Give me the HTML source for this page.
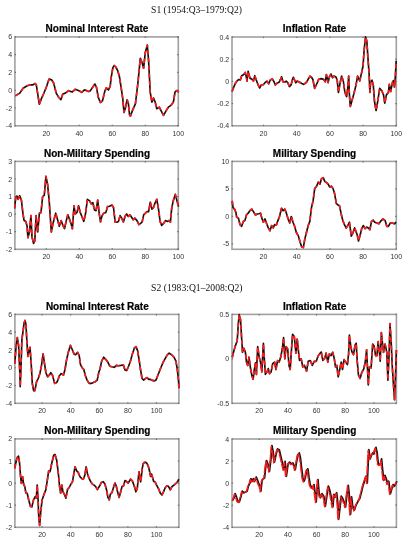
<!DOCTYPE html><html><head><meta charset="utf-8"><style>html,body{margin:0;padding:0;background:#fff;}svg{display:block}</style></head><body>
<svg width="409" height="550" viewBox="0 0 409 550">
<text x="151.1" y="13.3" font-family='"Liberation Serif", "Times New Roman", serif' font-size="10.4" fill="#111" textLength="90.8" lengthAdjust="spacingAndGlyphs">S1 (1954:Q3–1979:Q2)</text>
<text x="151.1" y="291.2" font-family='"Liberation Serif", "Times New Roman", serif' font-size="10.4" fill="#111" textLength="91.4" lengthAdjust="spacingAndGlyphs">S2 (1983:Q1–2008:Q2)</text>
<text x="97.0" y="32.3" font-family='"Liberation Sans", Arial, Helvetica, sans-serif' font-weight="bold" font-size="10" fill="#000" stroke="#000" stroke-width="0.2" text-anchor="middle">Nominal Interest Rate</text>
<rect x="14.90" y="36.90" width="163.40" height="88.90" fill="none" stroke="#a0a0a0" stroke-width="1.6"/>
<line x1="14.60" y1="36.90" x2="16.00" y2="36.90" stroke="#707070" stroke-width="1.2"/>
<line x1="178.60" y1="36.90" x2="177.20" y2="36.90" stroke="#707070" stroke-width="1.2"/>
<text x="12.1" y="39.4" font-family='"Liberation Sans", Arial, Helvetica, sans-serif' font-size="7" fill="#333" text-anchor="end">6</text>
<line x1="14.60" y1="54.68" x2="16.00" y2="54.68" stroke="#707070" stroke-width="1.2"/>
<line x1="178.60" y1="54.68" x2="177.20" y2="54.68" stroke="#707070" stroke-width="1.2"/>
<text x="12.1" y="57.2" font-family='"Liberation Sans", Arial, Helvetica, sans-serif' font-size="7" fill="#333" text-anchor="end">4</text>
<line x1="14.60" y1="72.46" x2="16.00" y2="72.46" stroke="#707070" stroke-width="1.2"/>
<line x1="178.60" y1="72.46" x2="177.20" y2="72.46" stroke="#707070" stroke-width="1.2"/>
<text x="12.1" y="75.0" font-family='"Liberation Sans", Arial, Helvetica, sans-serif' font-size="7" fill="#333" text-anchor="end">2</text>
<line x1="14.60" y1="90.24" x2="16.00" y2="90.24" stroke="#707070" stroke-width="1.2"/>
<line x1="178.60" y1="90.24" x2="177.20" y2="90.24" stroke="#707070" stroke-width="1.2"/>
<text x="12.1" y="92.7" font-family='"Liberation Sans", Arial, Helvetica, sans-serif' font-size="7" fill="#333" text-anchor="end">0</text>
<line x1="14.60" y1="108.02" x2="16.00" y2="108.02" stroke="#707070" stroke-width="1.2"/>
<line x1="178.60" y1="108.02" x2="177.20" y2="108.02" stroke="#707070" stroke-width="1.2"/>
<text x="12.1" y="110.5" font-family='"Liberation Sans", Arial, Helvetica, sans-serif' font-size="7" fill="#333" text-anchor="end">-2</text>
<line x1="14.60" y1="125.80" x2="16.00" y2="125.80" stroke="#707070" stroke-width="1.2"/>
<line x1="178.60" y1="125.80" x2="177.20" y2="125.80" stroke="#707070" stroke-width="1.2"/>
<text x="12.1" y="128.3" font-family='"Liberation Sans", Arial, Helvetica, sans-serif' font-size="7" fill="#333" text-anchor="end">-4</text>
<line x1="46.26" y1="126.10" x2="46.26" y2="124.70" stroke="#707070" stroke-width="1.2"/>
<line x1="46.26" y1="36.60" x2="46.26" y2="38.00" stroke="#707070" stroke-width="1.2"/>
<text x="46.3" y="135.9" font-family='"Liberation Sans", Arial, Helvetica, sans-serif' font-size="7" fill="#333" text-anchor="middle">20</text>
<line x1="79.27" y1="126.10" x2="79.27" y2="124.70" stroke="#707070" stroke-width="1.2"/>
<line x1="79.27" y1="36.60" x2="79.27" y2="38.00" stroke="#707070" stroke-width="1.2"/>
<text x="79.3" y="135.9" font-family='"Liberation Sans", Arial, Helvetica, sans-serif' font-size="7" fill="#333" text-anchor="middle">40</text>
<line x1="112.28" y1="126.10" x2="112.28" y2="124.70" stroke="#707070" stroke-width="1.2"/>
<line x1="112.28" y1="36.60" x2="112.28" y2="38.00" stroke="#707070" stroke-width="1.2"/>
<text x="112.3" y="135.9" font-family='"Liberation Sans", Arial, Helvetica, sans-serif' font-size="7" fill="#333" text-anchor="middle">60</text>
<line x1="145.29" y1="126.10" x2="145.29" y2="124.70" stroke="#707070" stroke-width="1.2"/>
<line x1="145.29" y1="36.60" x2="145.29" y2="38.00" stroke="#707070" stroke-width="1.2"/>
<text x="145.3" y="135.9" font-family='"Liberation Sans", Arial, Helvetica, sans-serif' font-size="7" fill="#333" text-anchor="middle">80</text>
<line x1="178.30" y1="126.10" x2="178.30" y2="124.70" stroke="#707070" stroke-width="1.2"/>
<line x1="178.30" y1="36.60" x2="178.30" y2="38.00" stroke="#707070" stroke-width="1.2"/>
<text x="178.3" y="135.9" font-family='"Liberation Sans", Arial, Helvetica, sans-serif' font-size="7" fill="#333" text-anchor="middle">100</text>
<polyline points="15.3,95.9 19.8,93.1 23.1,88.2 27.2,85.7 30.6,84.8 33.0,84.8 35.2,83.5 36.3,84.8 38.0,95.6 39.3,104.2 41.3,98.9 43.5,94.0 46.3,87.3 49.1,79.0 51.7,79.9 53.7,83.2 56.2,93.1 58.7,97.3 60.9,99.7 62.8,94.0 65.3,93.1 68.6,90.6 69.3,91.1 72.3,92.0 75.1,89.3 78.4,90.6 81.7,92.3 84.5,89.8 88.4,91.5 90.0,91.1 92.5,87.5 94.9,84.0 96.5,87.3 98.2,97.1 100.4,102.5 102.5,100.9 104.7,91.6 106.3,87.8 108.5,90.0 110.2,86.2 111.2,77.4 112.9,67.6 114.2,65.5 115.8,67.0 117.8,70.9 119.4,76.4 121.1,87.3 122.7,98.2 124.0,112.4 125.4,108.0 127.1,99.8 128.4,103.6 129.5,114.5 130.4,116.2 132.5,110.4 135.4,103.8 137.8,84.0 140.3,58.3 142.0,62.4 143.6,68.2 145.3,52.5 147.3,45.1 148.6,60.8 150.2,92.2 151.9,102.1 153.5,98.0 155.2,102.1 156.8,108.7 159.3,107.1 161.3,111.2 163.5,115.3 165.9,111.2 168.4,107.1 170.9,105.4 173.4,102.1 175.0,92.2 176.7,90.5 178.8,92.2" fill="none" stroke="#111" stroke-width="1.65" stroke-linejoin="round"/>
<polyline points="15.3,95.9 19.8,93.1 23.1,88.2 27.2,85.7 30.6,84.8 33.0,84.8 35.2,83.5 36.3,84.8 38.0,95.6 39.3,104.2 41.3,98.9 43.5,94.0 46.3,87.3 49.1,79.0 51.7,79.9 53.7,83.2 56.2,93.1 58.7,97.3 60.9,99.7 62.8,94.0 65.3,93.1 68.6,90.6 69.3,91.1 72.3,92.0 75.1,89.3 78.4,90.6 81.7,92.3 84.5,89.8 88.4,91.5 90.0,91.1 92.5,87.5 94.9,84.0 96.5,87.3 98.2,97.1 100.4,102.5 102.5,100.9 104.7,91.6 106.3,87.8 108.5,90.0 110.2,86.2 111.2,77.4 112.9,67.6 114.2,65.5 115.8,67.0 117.8,70.9 119.4,76.4 121.1,87.3 122.7,98.2 124.0,112.4 125.4,108.0 127.1,99.8 128.4,103.6 129.5,114.5 130.4,116.2 132.5,110.4 135.4,103.8 137.8,84.0 140.3,58.3 142.0,62.4 143.6,68.2 145.3,52.5 147.3,45.1 148.6,60.8 150.2,92.2 151.9,102.1 153.5,98.0 155.2,102.1 156.8,108.7 159.3,107.1 161.3,111.2 163.5,115.3 165.9,111.2 168.4,107.1 170.9,105.4 173.4,102.1 175.0,92.2 176.7,90.5 178.8,92.2" fill="none" stroke="#ff1a1a" stroke-width="1.65" stroke-dasharray="4.3 3.4" stroke-linejoin="round"/>
<text x="314.5" y="32.4" font-family='"Liberation Sans", Arial, Helvetica, sans-serif' font-weight="bold" font-size="10" fill="#000" stroke="#000" stroke-width="0.2" text-anchor="middle">Inflation Rate</text>
<rect x="232.00" y="37.00" width="164.30" height="88.80" fill="none" stroke="#a0a0a0" stroke-width="1.6"/>
<line x1="231.70" y1="37.00" x2="233.10" y2="37.00" stroke="#707070" stroke-width="1.2"/>
<line x1="396.60" y1="37.00" x2="395.20" y2="37.00" stroke="#707070" stroke-width="1.2"/>
<text x="229.2" y="39.5" font-family='"Liberation Sans", Arial, Helvetica, sans-serif' font-size="7" fill="#333" text-anchor="end">0.4</text>
<line x1="231.70" y1="59.20" x2="233.10" y2="59.20" stroke="#707070" stroke-width="1.2"/>
<line x1="396.60" y1="59.20" x2="395.20" y2="59.20" stroke="#707070" stroke-width="1.2"/>
<text x="229.2" y="61.7" font-family='"Liberation Sans", Arial, Helvetica, sans-serif' font-size="7" fill="#333" text-anchor="end">0.2</text>
<line x1="231.70" y1="81.40" x2="233.10" y2="81.40" stroke="#707070" stroke-width="1.2"/>
<line x1="396.60" y1="81.40" x2="395.20" y2="81.40" stroke="#707070" stroke-width="1.2"/>
<text x="229.2" y="83.9" font-family='"Liberation Sans", Arial, Helvetica, sans-serif' font-size="7" fill="#333" text-anchor="end">0</text>
<line x1="231.70" y1="103.60" x2="233.10" y2="103.60" stroke="#707070" stroke-width="1.2"/>
<line x1="396.60" y1="103.60" x2="395.20" y2="103.60" stroke="#707070" stroke-width="1.2"/>
<text x="229.2" y="106.1" font-family='"Liberation Sans", Arial, Helvetica, sans-serif' font-size="7" fill="#333" text-anchor="end">-0.2</text>
<line x1="231.70" y1="125.80" x2="233.10" y2="125.80" stroke="#707070" stroke-width="1.2"/>
<line x1="396.60" y1="125.80" x2="395.20" y2="125.80" stroke="#707070" stroke-width="1.2"/>
<text x="229.2" y="128.3" font-family='"Liberation Sans", Arial, Helvetica, sans-serif' font-size="7" fill="#333" text-anchor="end">-0.4</text>
<line x1="263.53" y1="126.10" x2="263.53" y2="124.70" stroke="#707070" stroke-width="1.2"/>
<line x1="263.53" y1="36.70" x2="263.53" y2="38.10" stroke="#707070" stroke-width="1.2"/>
<text x="263.5" y="135.9" font-family='"Liberation Sans", Arial, Helvetica, sans-serif' font-size="7" fill="#333" text-anchor="middle">20</text>
<line x1="296.72" y1="126.10" x2="296.72" y2="124.70" stroke="#707070" stroke-width="1.2"/>
<line x1="296.72" y1="36.70" x2="296.72" y2="38.10" stroke="#707070" stroke-width="1.2"/>
<text x="296.7" y="135.9" font-family='"Liberation Sans", Arial, Helvetica, sans-serif' font-size="7" fill="#333" text-anchor="middle">40</text>
<line x1="329.92" y1="126.10" x2="329.92" y2="124.70" stroke="#707070" stroke-width="1.2"/>
<line x1="329.92" y1="36.70" x2="329.92" y2="38.10" stroke="#707070" stroke-width="1.2"/>
<text x="329.9" y="135.9" font-family='"Liberation Sans", Arial, Helvetica, sans-serif' font-size="7" fill="#333" text-anchor="middle">60</text>
<line x1="363.11" y1="126.10" x2="363.11" y2="124.70" stroke="#707070" stroke-width="1.2"/>
<line x1="363.11" y1="36.70" x2="363.11" y2="38.10" stroke="#707070" stroke-width="1.2"/>
<text x="363.1" y="135.9" font-family='"Liberation Sans", Arial, Helvetica, sans-serif' font-size="7" fill="#333" text-anchor="middle">80</text>
<line x1="396.30" y1="126.10" x2="396.30" y2="124.70" stroke="#707070" stroke-width="1.2"/>
<line x1="396.30" y1="36.70" x2="396.30" y2="38.10" stroke="#707070" stroke-width="1.2"/>
<text x="396.3" y="135.9" font-family='"Liberation Sans", Arial, Helvetica, sans-serif' font-size="7" fill="#333" text-anchor="middle">100</text>
<polyline points="232.1,91.5 233.7,87.1 235.4,83.3 237.0,81.1 238.6,79.5 240.3,80.0 241.7,75.7 243.0,75.1 244.1,74.2 245.2,72.4 246.3,76.7 247.0,81.1 248.1,71.3 249.0,74.6 250.1,78.4 251.7,78.9 253.4,81.1 254.8,75.7 256.1,79.5 257.7,83.8 259.6,88.0 261.3,84.9 263.2,84.7 265.4,82.2 267.0,81.1 268.7,83.8 270.3,80.0 272.3,78.9 274.0,81.7 275.3,84.9 276.9,83.3 279.1,82.2 280.5,79.5 281.6,76.7 282.9,81.7 284.6,82.2 286.2,81.1 287.8,82.8 289.5,86.6 291.1,84.9 292.2,80.6 293.3,77.3 294.6,80.0 295.8,82.8 297.1,81.1 298.7,81.7 300.4,82.8 302.0,83.6 303.7,84.4 305.3,83.3 306.9,81.7 308.6,78.4 310.0,76.2 311.5,77.3 312.9,79.5 314.6,88.4 316.6,84.3 318.7,79.4 321.2,78.6 323.6,79.4 325.3,81.8 326.4,74.5 328.1,82.6 329.4,76.9 331.0,74.0 332.6,77.7 334.0,76.1 335.9,76.9 337.2,80.2 338.4,92.5 340.0,83.5 341.6,76.1 343.3,81.0 344.9,92.5 346.6,96.6 347.7,88.4 348.7,76.1 349.3,93.3 350.3,106.4 352.0,100.6 354.0,93.3 356.0,85.1 357.6,76.1 359.7,81.0 361.4,73.6 363.0,66.3 364.1,50.7 365.5,36.8 366.8,40.9 367.9,57.3 369.1,73.6 369.9,92.5 370.7,81.8 372.0,80.2 373.3,85.1 374.5,101.5 376.1,110.5 377.7,101.5 379.7,88.4 381.8,90.8 383.5,94.9 384.8,103.1 386.4,94.9 388.4,92.5 389.3,84.4 390.7,91.5 392.4,82.7 393.4,80.5 394.5,87.0 395.4,75.5 396.2,60.9" fill="none" stroke="#111" stroke-width="1.65" stroke-linejoin="round"/>
<polyline points="232.1,91.5 233.7,87.1 235.4,83.3 237.0,81.1 238.6,79.5 240.3,80.0 241.7,75.7 243.0,75.1 244.1,74.2 245.2,72.4 246.3,76.7 247.0,81.1 248.1,71.3 249.0,74.6 250.1,78.4 251.7,78.9 253.4,81.1 254.8,75.7 256.1,79.5 257.7,83.8 259.6,88.0 261.3,84.9 263.2,84.7 265.4,82.2 267.0,81.1 268.7,83.8 270.3,80.0 272.3,78.9 274.0,81.7 275.3,84.9 276.9,83.3 279.1,82.2 280.5,79.5 281.6,76.7 282.9,81.7 284.6,82.2 286.2,81.1 287.8,82.8 289.5,86.6 291.1,84.9 292.2,80.6 293.3,77.3 294.6,80.0 295.8,82.8 297.1,81.1 298.7,81.7 300.4,82.8 302.0,83.6 303.7,84.4 305.3,83.3 306.9,81.7 308.6,78.4 310.0,76.2 311.5,77.3 312.9,79.5 314.6,88.4 316.6,84.3 318.7,79.4 321.2,78.6 323.6,79.4 325.3,81.8 326.4,74.5 328.1,82.6 329.4,76.9 331.0,74.0 332.6,77.7 334.0,76.1 335.9,76.9 337.2,80.2 338.4,92.5 340.0,83.5 341.6,76.1 343.3,81.0 344.9,92.5 346.6,96.6 347.7,88.4 348.7,76.1 349.3,93.3 350.3,106.4 352.0,100.6 354.0,93.3 356.0,85.1 357.6,76.1 359.7,81.0 361.4,73.6 363.0,66.3 364.1,50.7 365.5,36.8 366.8,40.9 367.9,57.3 369.1,73.6 369.9,92.5 370.7,81.8 372.0,80.2 373.3,85.1 374.5,101.5 376.1,110.5 377.7,101.5 379.7,88.4 381.8,90.8 383.5,94.9 384.8,103.1 386.4,94.9 388.4,92.5 389.3,84.4 390.7,91.5 392.4,82.7 393.4,80.5 394.5,87.0 395.4,75.5 396.2,60.9" fill="none" stroke="#ff1a1a" stroke-width="1.65" stroke-dasharray="4.3 3.4" stroke-linejoin="round"/>
<text x="97.0" y="156.8" font-family='"Liberation Sans", Arial, Helvetica, sans-serif' font-weight="bold" font-size="10" fill="#000" stroke="#000" stroke-width="0.2" text-anchor="middle">Non-Military Spending</text>
<rect x="14.90" y="161.40" width="163.40" height="87.90" fill="none" stroke="#a0a0a0" stroke-width="1.6"/>
<line x1="14.60" y1="161.40" x2="16.00" y2="161.40" stroke="#707070" stroke-width="1.2"/>
<line x1="178.60" y1="161.40" x2="177.20" y2="161.40" stroke="#707070" stroke-width="1.2"/>
<text x="12.1" y="163.9" font-family='"Liberation Sans", Arial, Helvetica, sans-serif' font-size="7" fill="#333" text-anchor="end">3</text>
<line x1="14.60" y1="178.98" x2="16.00" y2="178.98" stroke="#707070" stroke-width="1.2"/>
<line x1="178.60" y1="178.98" x2="177.20" y2="178.98" stroke="#707070" stroke-width="1.2"/>
<text x="12.1" y="181.5" font-family='"Liberation Sans", Arial, Helvetica, sans-serif' font-size="7" fill="#333" text-anchor="end">2</text>
<line x1="14.60" y1="196.56" x2="16.00" y2="196.56" stroke="#707070" stroke-width="1.2"/>
<line x1="178.60" y1="196.56" x2="177.20" y2="196.56" stroke="#707070" stroke-width="1.2"/>
<text x="12.1" y="199.1" font-family='"Liberation Sans", Arial, Helvetica, sans-serif' font-size="7" fill="#333" text-anchor="end">1</text>
<line x1="14.60" y1="214.14" x2="16.00" y2="214.14" stroke="#707070" stroke-width="1.2"/>
<line x1="178.60" y1="214.14" x2="177.20" y2="214.14" stroke="#707070" stroke-width="1.2"/>
<text x="12.1" y="216.6" font-family='"Liberation Sans", Arial, Helvetica, sans-serif' font-size="7" fill="#333" text-anchor="end">0</text>
<line x1="14.60" y1="231.72" x2="16.00" y2="231.72" stroke="#707070" stroke-width="1.2"/>
<line x1="178.60" y1="231.72" x2="177.20" y2="231.72" stroke="#707070" stroke-width="1.2"/>
<text x="12.1" y="234.2" font-family='"Liberation Sans", Arial, Helvetica, sans-serif' font-size="7" fill="#333" text-anchor="end">-1</text>
<line x1="14.60" y1="249.30" x2="16.00" y2="249.30" stroke="#707070" stroke-width="1.2"/>
<line x1="178.60" y1="249.30" x2="177.20" y2="249.30" stroke="#707070" stroke-width="1.2"/>
<text x="12.1" y="251.8" font-family='"Liberation Sans", Arial, Helvetica, sans-serif' font-size="7" fill="#333" text-anchor="end">-2</text>
<line x1="46.26" y1="249.60" x2="46.26" y2="248.20" stroke="#707070" stroke-width="1.2"/>
<line x1="46.26" y1="161.10" x2="46.26" y2="162.50" stroke="#707070" stroke-width="1.2"/>
<text x="46.3" y="259.4" font-family='"Liberation Sans", Arial, Helvetica, sans-serif' font-size="7" fill="#333" text-anchor="middle">20</text>
<line x1="79.27" y1="249.60" x2="79.27" y2="248.20" stroke="#707070" stroke-width="1.2"/>
<line x1="79.27" y1="161.10" x2="79.27" y2="162.50" stroke="#707070" stroke-width="1.2"/>
<text x="79.3" y="259.4" font-family='"Liberation Sans", Arial, Helvetica, sans-serif' font-size="7" fill="#333" text-anchor="middle">40</text>
<line x1="112.28" y1="249.60" x2="112.28" y2="248.20" stroke="#707070" stroke-width="1.2"/>
<line x1="112.28" y1="161.10" x2="112.28" y2="162.50" stroke="#707070" stroke-width="1.2"/>
<text x="112.3" y="259.4" font-family='"Liberation Sans", Arial, Helvetica, sans-serif' font-size="7" fill="#333" text-anchor="middle">60</text>
<line x1="145.29" y1="249.60" x2="145.29" y2="248.20" stroke="#707070" stroke-width="1.2"/>
<line x1="145.29" y1="161.10" x2="145.29" y2="162.50" stroke="#707070" stroke-width="1.2"/>
<text x="145.3" y="259.4" font-family='"Liberation Sans", Arial, Helvetica, sans-serif' font-size="7" fill="#333" text-anchor="middle">80</text>
<line x1="178.30" y1="249.60" x2="178.30" y2="248.20" stroke="#707070" stroke-width="1.2"/>
<line x1="178.30" y1="161.10" x2="178.30" y2="162.50" stroke="#707070" stroke-width="1.2"/>
<text x="178.3" y="259.4" font-family='"Liberation Sans", Arial, Helvetica, sans-serif' font-size="7" fill="#333" text-anchor="middle">100</text>
<polyline points="14.7,208.3 15.6,198.5 16.9,196.0 18.1,199.3 19.7,195.7 21.4,200.1 23.0,214.0 24.1,220.6 25.8,221.4 27.1,226.3 27.9,237.7 29.5,232.0 30.9,215.6 32.0,236.9 33.6,243.5 34.8,241.0 36.1,215.6 37.7,232.0 39.4,213.2 41.0,212.4 42.6,196.8 44.3,195.2 45.9,176.4 47.6,184.5 49.2,200.9 51.3,232.0 53.3,222.2 55.7,213.2 57.6,219.7 59.3,226.3 61.2,220.6 62.9,225.5 64.5,228.7 66.1,221.4 67.8,214.8 69.4,218.9 71.1,223.8 72.4,228.7 74.0,205.8 75.3,214.0 77.0,212.4 78.6,205.8 80.2,212.4 81.9,216.5 83.8,221.4 85.5,214.0 87.4,199.3 89.6,200.9 91.2,203.9 92.8,202.6 94.5,209.9 96.1,210.7 97.7,200.1 99.3,214.0 100.5,221.9 102.1,215.6 103.7,213.2 105.9,212.4 107.5,206.6 109.5,206.2 111.9,205.0 113.5,207.5 115.2,222.2 116.8,222.2 118.5,221.4 120.1,215.6 121.7,218.1 123.4,221.9 125.0,216.5 126.6,214.0 128.3,216.5 129.9,214.8 131.6,217.3 133.2,219.7 134.8,218.1 137.0,220.6 138.9,224.6 140.0,223.8 142.1,222.2 143.7,214.8 145.4,213.2 147.0,211.6 148.6,211.6 150.3,202.2 151.9,209.1 153.5,207.5 155.2,202.6 156.8,199.3 158.5,209.1 160.1,221.4 161.7,225.5 163.9,223.0 165.5,220.6 167.5,221.4 169.1,220.6 170.4,222.2 171.6,209.1 173.2,200.9 175.3,194.4 177.0,200.9 178.6,206.6" fill="none" stroke="#111" stroke-width="1.65" stroke-linejoin="round"/>
<polyline points="14.7,208.3 15.6,198.5 16.9,196.0 18.1,199.3 19.7,195.7 21.4,200.1 23.0,214.0 24.1,220.6 25.8,221.4 27.1,226.3 27.9,237.7 29.5,232.0 30.9,215.6 32.0,236.9 33.6,243.5 34.8,241.0 36.1,215.6 37.7,232.0 39.4,213.2 41.0,212.4 42.6,196.8 44.3,195.2 45.9,176.4 47.6,184.5 49.2,200.9 51.3,232.0 53.3,222.2 55.7,213.2 57.6,219.7 59.3,226.3 61.2,220.6 62.9,225.5 64.5,228.7 66.1,221.4 67.8,214.8 69.4,218.9 71.1,223.8 72.4,228.7 74.0,205.8 75.3,214.0 77.0,212.4 78.6,205.8 80.2,212.4 81.9,216.5 83.8,221.4 85.5,214.0 87.4,199.3 89.6,200.9 91.2,203.9 92.8,202.6 94.5,209.9 96.1,210.7 97.7,200.1 99.3,214.0 100.5,221.9 102.1,215.6 103.7,213.2 105.9,212.4 107.5,206.6 109.5,206.2 111.9,205.0 113.5,207.5 115.2,222.2 116.8,222.2 118.5,221.4 120.1,215.6 121.7,218.1 123.4,221.9 125.0,216.5 126.6,214.0 128.3,216.5 129.9,214.8 131.6,217.3 133.2,219.7 134.8,218.1 137.0,220.6 138.9,224.6 140.0,223.8 142.1,222.2 143.7,214.8 145.4,213.2 147.0,211.6 148.6,211.6 150.3,202.2 151.9,209.1 153.5,207.5 155.2,202.6 156.8,199.3 158.5,209.1 160.1,221.4 161.7,225.5 163.9,223.0 165.5,220.6 167.5,221.4 169.1,220.6 170.4,222.2 171.6,209.1 173.2,200.9 175.3,194.4 177.0,200.9 178.6,206.6" fill="none" stroke="#ff1a1a" stroke-width="1.65" stroke-dasharray="4.3 3.4" stroke-linejoin="round"/>
<text x="314.5" y="156.8" font-family='"Liberation Sans", Arial, Helvetica, sans-serif' font-weight="bold" font-size="10" fill="#000" stroke="#000" stroke-width="0.2" text-anchor="middle">Military Spending</text>
<rect x="232.00" y="161.40" width="164.30" height="87.90" fill="none" stroke="#a0a0a0" stroke-width="1.6"/>
<line x1="231.70" y1="161.40" x2="233.10" y2="161.40" stroke="#707070" stroke-width="1.2"/>
<line x1="396.60" y1="161.40" x2="395.20" y2="161.40" stroke="#707070" stroke-width="1.2"/>
<text x="229.2" y="163.9" font-family='"Liberation Sans", Arial, Helvetica, sans-serif' font-size="7" fill="#333" text-anchor="end">10</text>
<line x1="231.70" y1="188.87" x2="233.10" y2="188.87" stroke="#707070" stroke-width="1.2"/>
<line x1="396.60" y1="188.87" x2="395.20" y2="188.87" stroke="#707070" stroke-width="1.2"/>
<text x="229.2" y="191.4" font-family='"Liberation Sans", Arial, Helvetica, sans-serif' font-size="7" fill="#333" text-anchor="end">5</text>
<line x1="231.70" y1="216.34" x2="233.10" y2="216.34" stroke="#707070" stroke-width="1.2"/>
<line x1="396.60" y1="216.34" x2="395.20" y2="216.34" stroke="#707070" stroke-width="1.2"/>
<text x="229.2" y="218.8" font-family='"Liberation Sans", Arial, Helvetica, sans-serif' font-size="7" fill="#333" text-anchor="end">0</text>
<line x1="231.70" y1="243.81" x2="233.10" y2="243.81" stroke="#707070" stroke-width="1.2"/>
<line x1="396.60" y1="243.81" x2="395.20" y2="243.81" stroke="#707070" stroke-width="1.2"/>
<text x="229.2" y="246.3" font-family='"Liberation Sans", Arial, Helvetica, sans-serif' font-size="7" fill="#333" text-anchor="end">-5</text>
<line x1="263.53" y1="249.60" x2="263.53" y2="248.20" stroke="#707070" stroke-width="1.2"/>
<line x1="263.53" y1="161.10" x2="263.53" y2="162.50" stroke="#707070" stroke-width="1.2"/>
<text x="263.5" y="259.4" font-family='"Liberation Sans", Arial, Helvetica, sans-serif' font-size="7" fill="#333" text-anchor="middle">20</text>
<line x1="296.72" y1="249.60" x2="296.72" y2="248.20" stroke="#707070" stroke-width="1.2"/>
<line x1="296.72" y1="161.10" x2="296.72" y2="162.50" stroke="#707070" stroke-width="1.2"/>
<text x="296.7" y="259.4" font-family='"Liberation Sans", Arial, Helvetica, sans-serif' font-size="7" fill="#333" text-anchor="middle">40</text>
<line x1="329.92" y1="249.60" x2="329.92" y2="248.20" stroke="#707070" stroke-width="1.2"/>
<line x1="329.92" y1="161.10" x2="329.92" y2="162.50" stroke="#707070" stroke-width="1.2"/>
<text x="329.9" y="259.4" font-family='"Liberation Sans", Arial, Helvetica, sans-serif' font-size="7" fill="#333" text-anchor="middle">60</text>
<line x1="363.11" y1="249.60" x2="363.11" y2="248.20" stroke="#707070" stroke-width="1.2"/>
<line x1="363.11" y1="161.10" x2="363.11" y2="162.50" stroke="#707070" stroke-width="1.2"/>
<text x="363.1" y="259.4" font-family='"Liberation Sans", Arial, Helvetica, sans-serif' font-size="7" fill="#333" text-anchor="middle">80</text>
<line x1="396.30" y1="249.60" x2="396.30" y2="248.20" stroke="#707070" stroke-width="1.2"/>
<line x1="396.30" y1="161.10" x2="396.30" y2="162.50" stroke="#707070" stroke-width="1.2"/>
<text x="396.3" y="259.4" font-family='"Liberation Sans", Arial, Helvetica, sans-serif' font-size="7" fill="#333" text-anchor="middle">100</text>
<polyline points="232.2,200.9 233.0,207.5 234.6,209.4 235.9,212.4 236.7,217.3 238.4,218.1 240.0,224.6 241.6,226.3 243.3,221.4 244.9,220.6 246.5,214.8 248.2,213.2 249.8,210.7 251.8,209.1 253.9,212.4 255.5,215.2 257.2,214.0 258.8,213.7 260.5,213.2 262.1,218.9 263.4,222.2 265.0,218.9 266.7,223.8 268.3,227.9 270.0,230.7 271.6,225.5 273.2,227.9 274.6,224.6 276.3,225.1 277.9,220.6 279.5,216.5 281.5,208.3 283.1,210.7 284.8,209.1 286.4,213.2 288.1,218.9 289.7,223.0 291.3,216.5 293.0,222.2 294.6,226.3 296.2,232.0 298.4,236.1 300.0,241.8 301.6,246.7 303.3,247.6 304.9,238.6 306.6,232.0 308.2,225.5 309.8,221.4 311.5,207.5 313.1,200.9 314.7,188.6 316.6,186.2 318.3,182.1 319.9,184.2 321.5,178.8 323.2,177.7 324.8,181.3 326.5,182.6 328.1,184.2 329.7,187.0 331.4,186.2 333.0,188.6 334.6,193.6 336.3,203.4 337.9,205.0 339.5,205.8 341.2,214.0 342.8,220.6 344.5,224.6 346.1,227.9 347.4,226.3 349.4,222.2 351.3,236.1 353.0,232.8 354.6,227.9 356.2,232.0 357.3,235.3 358.5,241.0 360.1,235.3 361.7,228.7 363.4,225.5 365.0,228.7 366.6,227.1 368.3,227.9 369.9,229.6 371.5,221.4 373.2,220.2 374.8,222.2 376.9,223.0 378.9,223.8 380.5,221.4 383.0,218.9 385.1,220.6 386.8,226.3 388.4,226.3 390.4,223.0 392.3,223.0 394.5,223.8 396.1,222.2" fill="none" stroke="#111" stroke-width="1.65" stroke-linejoin="round"/>
<polyline points="232.2,200.9 233.0,207.5 234.6,209.4 235.9,212.4 236.7,217.3 238.4,218.1 240.0,224.6 241.6,226.3 243.3,221.4 244.9,220.6 246.5,214.8 248.2,213.2 249.8,210.7 251.8,209.1 253.9,212.4 255.5,215.2 257.2,214.0 258.8,213.7 260.5,213.2 262.1,218.9 263.4,222.2 265.0,218.9 266.7,223.8 268.3,227.9 270.0,230.7 271.6,225.5 273.2,227.9 274.6,224.6 276.3,225.1 277.9,220.6 279.5,216.5 281.5,208.3 283.1,210.7 284.8,209.1 286.4,213.2 288.1,218.9 289.7,223.0 291.3,216.5 293.0,222.2 294.6,226.3 296.2,232.0 298.4,236.1 300.0,241.8 301.6,246.7 303.3,247.6 304.9,238.6 306.6,232.0 308.2,225.5 309.8,221.4 311.5,207.5 313.1,200.9 314.7,188.6 316.6,186.2 318.3,182.1 319.9,184.2 321.5,178.8 323.2,177.7 324.8,181.3 326.5,182.6 328.1,184.2 329.7,187.0 331.4,186.2 333.0,188.6 334.6,193.6 336.3,203.4 337.9,205.0 339.5,205.8 341.2,214.0 342.8,220.6 344.5,224.6 346.1,227.9 347.4,226.3 349.4,222.2 351.3,236.1 353.0,232.8 354.6,227.9 356.2,232.0 357.3,235.3 358.5,241.0 360.1,235.3 361.7,228.7 363.4,225.5 365.0,228.7 366.6,227.1 368.3,227.9 369.9,229.6 371.5,221.4 373.2,220.2 374.8,222.2 376.9,223.0 378.9,223.8 380.5,221.4 383.0,218.9 385.1,220.6 386.8,226.3 388.4,226.3 390.4,223.0 392.3,223.0 394.5,223.8 396.1,222.2" fill="none" stroke="#ff1a1a" stroke-width="1.65" stroke-dasharray="4.3 3.4" stroke-linejoin="round"/>
<text x="97.3" y="309.8" font-family='"Liberation Sans", Arial, Helvetica, sans-serif' font-weight="bold" font-size="10" fill="#000" stroke="#000" stroke-width="0.2" text-anchor="middle">Nominal Interest Rate</text>
<rect x="14.90" y="314.40" width="164.00" height="88.90" fill="none" stroke="#a0a0a0" stroke-width="1.6"/>
<line x1="14.60" y1="314.40" x2="16.00" y2="314.40" stroke="#707070" stroke-width="1.2"/>
<line x1="179.20" y1="314.40" x2="177.80" y2="314.40" stroke="#707070" stroke-width="1.2"/>
<text x="12.1" y="316.9" font-family='"Liberation Sans", Arial, Helvetica, sans-serif' font-size="7" fill="#333" text-anchor="end">6</text>
<line x1="14.60" y1="332.18" x2="16.00" y2="332.18" stroke="#707070" stroke-width="1.2"/>
<line x1="179.20" y1="332.18" x2="177.80" y2="332.18" stroke="#707070" stroke-width="1.2"/>
<text x="12.1" y="334.7" font-family='"Liberation Sans", Arial, Helvetica, sans-serif' font-size="7" fill="#333" text-anchor="end">4</text>
<line x1="14.60" y1="349.96" x2="16.00" y2="349.96" stroke="#707070" stroke-width="1.2"/>
<line x1="179.20" y1="349.96" x2="177.80" y2="349.96" stroke="#707070" stroke-width="1.2"/>
<text x="12.1" y="352.5" font-family='"Liberation Sans", Arial, Helvetica, sans-serif' font-size="7" fill="#333" text-anchor="end">2</text>
<line x1="14.60" y1="367.74" x2="16.00" y2="367.74" stroke="#707070" stroke-width="1.2"/>
<line x1="179.20" y1="367.74" x2="177.80" y2="367.74" stroke="#707070" stroke-width="1.2"/>
<text x="12.1" y="370.2" font-family='"Liberation Sans", Arial, Helvetica, sans-serif' font-size="7" fill="#333" text-anchor="end">0</text>
<line x1="14.60" y1="385.52" x2="16.00" y2="385.52" stroke="#707070" stroke-width="1.2"/>
<line x1="179.20" y1="385.52" x2="177.80" y2="385.52" stroke="#707070" stroke-width="1.2"/>
<text x="12.1" y="388.0" font-family='"Liberation Sans", Arial, Helvetica, sans-serif' font-size="7" fill="#333" text-anchor="end">-2</text>
<line x1="14.60" y1="403.30" x2="16.00" y2="403.30" stroke="#707070" stroke-width="1.2"/>
<line x1="179.20" y1="403.30" x2="177.80" y2="403.30" stroke="#707070" stroke-width="1.2"/>
<text x="12.1" y="405.8" font-family='"Liberation Sans", Arial, Helvetica, sans-serif' font-size="7" fill="#333" text-anchor="end">-4</text>
<line x1="42.07" y1="403.60" x2="42.07" y2="402.20" stroke="#707070" stroke-width="1.2"/>
<line x1="42.07" y1="314.10" x2="42.07" y2="315.50" stroke="#707070" stroke-width="1.2"/>
<text x="42.1" y="413.4" font-family='"Liberation Sans", Arial, Helvetica, sans-serif' font-size="7" fill="#333" text-anchor="middle">20</text>
<line x1="70.66" y1="403.60" x2="70.66" y2="402.20" stroke="#707070" stroke-width="1.2"/>
<line x1="70.66" y1="314.10" x2="70.66" y2="315.50" stroke="#707070" stroke-width="1.2"/>
<text x="70.7" y="413.4" font-family='"Liberation Sans", Arial, Helvetica, sans-serif' font-size="7" fill="#333" text-anchor="middle">40</text>
<line x1="99.26" y1="403.60" x2="99.26" y2="402.20" stroke="#707070" stroke-width="1.2"/>
<line x1="99.26" y1="314.10" x2="99.26" y2="315.50" stroke="#707070" stroke-width="1.2"/>
<text x="99.3" y="413.4" font-family='"Liberation Sans", Arial, Helvetica, sans-serif' font-size="7" fill="#333" text-anchor="middle">60</text>
<line x1="127.86" y1="403.60" x2="127.86" y2="402.20" stroke="#707070" stroke-width="1.2"/>
<line x1="127.86" y1="314.10" x2="127.86" y2="315.50" stroke="#707070" stroke-width="1.2"/>
<text x="127.9" y="413.4" font-family='"Liberation Sans", Arial, Helvetica, sans-serif' font-size="7" fill="#333" text-anchor="middle">80</text>
<line x1="156.45" y1="403.60" x2="156.45" y2="402.20" stroke="#707070" stroke-width="1.2"/>
<line x1="156.45" y1="314.10" x2="156.45" y2="315.50" stroke="#707070" stroke-width="1.2"/>
<text x="156.5" y="413.4" font-family='"Liberation Sans", Arial, Helvetica, sans-serif' font-size="7" fill="#333" text-anchor="middle">100</text>
<polyline points="14.8,363.7 16.0,347.4 17.3,337.5 18.6,345.7 19.7,370.3 20.2,386.6 20.9,370.3 21.9,339.2 23.0,331.8 24.1,322.8 25.1,320.4 25.9,324.5 27.1,344.1 27.9,356.4 29.1,350.6 30.0,347.4 31.2,363.7 32.3,383.4 33.6,390.7 34.9,390.7 36.6,381.7 38.2,378.5 39.9,373.6 41.5,365.4 43.1,353.9 44.3,362.1 45.9,372.7 47.6,376.8 49.2,375.2 50.8,372.7 52.5,375.2 54.6,383.4 56.6,382.6 57.9,380.1 59.3,376.0 61.2,373.6 63.4,375.2 65.0,369.5 66.6,359.6 68.3,352.3 70.4,345.4 72.0,349.0 74.0,353.9 75.6,354.7 77.6,352.3 79.2,355.6 80.5,364.6 82.2,367.8 83.8,369.5 85.5,376.0 87.1,380.1 89.1,383.4 91.2,383.4 93.3,382.6 95.3,381.7 97.2,380.1 98.9,371.9 99.9,369.5 101.6,361.3 103.7,357.2 105.9,359.6 107.8,362.1 109.8,366.2 111.9,366.7 114.4,367.3 116.3,365.4 118.5,365.7 120.9,365.4 123.4,365.0 125.0,370.0 126.6,370.6 128.3,367.0 130.4,361.3 132.4,353.9 134.3,348.2 136.0,346.6 137.6,350.6 139.2,360.5 140.5,369.5 142.1,378.5 143.7,380.1 145.4,378.5 147.0,377.6 148.6,379.3 150.3,379.3 152.4,380.4 154.4,380.9 156.0,380.1 157.6,376.0 160.1,369.5 162.5,363.7 165.0,358.8 167.1,355.2 169.1,353.1 171.6,354.7 174.0,357.2 176.0,361.3 177.3,369.5 178.6,381.7 178.9,388.3" fill="none" stroke="#111" stroke-width="1.65" stroke-linejoin="round"/>
<polyline points="14.8,363.7 16.0,347.4 17.3,337.5 18.6,345.7 19.7,370.3 20.2,386.6 20.9,370.3 21.9,339.2 23.0,331.8 24.1,322.8 25.1,320.4 25.9,324.5 27.1,344.1 27.9,356.4 29.1,350.6 30.0,347.4 31.2,363.7 32.3,383.4 33.6,390.7 34.9,390.7 36.6,381.7 38.2,378.5 39.9,373.6 41.5,365.4 43.1,353.9 44.3,362.1 45.9,372.7 47.6,376.8 49.2,375.2 50.8,372.7 52.5,375.2 54.6,383.4 56.6,382.6 57.9,380.1 59.3,376.0 61.2,373.6 63.4,375.2 65.0,369.5 66.6,359.6 68.3,352.3 70.4,345.4 72.0,349.0 74.0,353.9 75.6,354.7 77.6,352.3 79.2,355.6 80.5,364.6 82.2,367.8 83.8,369.5 85.5,376.0 87.1,380.1 89.1,383.4 91.2,383.4 93.3,382.6 95.3,381.7 97.2,380.1 98.9,371.9 99.9,369.5 101.6,361.3 103.7,357.2 105.9,359.6 107.8,362.1 109.8,366.2 111.9,366.7 114.4,367.3 116.3,365.4 118.5,365.7 120.9,365.4 123.4,365.0 125.0,370.0 126.6,370.6 128.3,367.0 130.4,361.3 132.4,353.9 134.3,348.2 136.0,346.6 137.6,350.6 139.2,360.5 140.5,369.5 142.1,378.5 143.7,380.1 145.4,378.5 147.0,377.6 148.6,379.3 150.3,379.3 152.4,380.4 154.4,380.9 156.0,380.1 157.6,376.0 160.1,369.5 162.5,363.7 165.0,358.8 167.1,355.2 169.1,353.1 171.6,354.7 174.0,357.2 176.0,361.3 177.3,369.5 178.6,381.7 178.9,388.3" fill="none" stroke="#ff1a1a" stroke-width="1.65" stroke-dasharray="4.3 3.4" stroke-linejoin="round"/>
<text x="314.6" y="309.8" font-family='"Liberation Sans", Arial, Helvetica, sans-serif' font-weight="bold" font-size="10" fill="#000" stroke="#000" stroke-width="0.2" text-anchor="middle">Inflation Rate</text>
<rect x="232.00" y="314.40" width="164.40" height="88.90" fill="none" stroke="#a0a0a0" stroke-width="1.6"/>
<line x1="231.70" y1="314.40" x2="233.10" y2="314.40" stroke="#707070" stroke-width="1.2"/>
<line x1="396.70" y1="314.40" x2="395.30" y2="314.40" stroke="#707070" stroke-width="1.2"/>
<text x="229.2" y="316.9" font-family='"Liberation Sans", Arial, Helvetica, sans-serif' font-size="7" fill="#333" text-anchor="end">0.5</text>
<line x1="231.70" y1="358.85" x2="233.10" y2="358.85" stroke="#707070" stroke-width="1.2"/>
<line x1="396.70" y1="358.85" x2="395.30" y2="358.85" stroke="#707070" stroke-width="1.2"/>
<text x="229.2" y="361.4" font-family='"Liberation Sans", Arial, Helvetica, sans-serif' font-size="7" fill="#333" text-anchor="end">0</text>
<line x1="231.70" y1="403.30" x2="233.10" y2="403.30" stroke="#707070" stroke-width="1.2"/>
<line x1="396.70" y1="403.30" x2="395.30" y2="403.30" stroke="#707070" stroke-width="1.2"/>
<text x="229.2" y="405.8" font-family='"Liberation Sans", Arial, Helvetica, sans-serif' font-size="7" fill="#333" text-anchor="end">-0.5</text>
<line x1="259.23" y1="403.60" x2="259.23" y2="402.20" stroke="#707070" stroke-width="1.2"/>
<line x1="259.23" y1="314.10" x2="259.23" y2="315.50" stroke="#707070" stroke-width="1.2"/>
<text x="259.2" y="413.4" font-family='"Liberation Sans", Arial, Helvetica, sans-serif' font-size="7" fill="#333" text-anchor="middle">20</text>
<line x1="287.90" y1="403.60" x2="287.90" y2="402.20" stroke="#707070" stroke-width="1.2"/>
<line x1="287.90" y1="314.10" x2="287.90" y2="315.50" stroke="#707070" stroke-width="1.2"/>
<text x="287.9" y="413.4" font-family='"Liberation Sans", Arial, Helvetica, sans-serif' font-size="7" fill="#333" text-anchor="middle">40</text>
<line x1="316.56" y1="403.60" x2="316.56" y2="402.20" stroke="#707070" stroke-width="1.2"/>
<line x1="316.56" y1="314.10" x2="316.56" y2="315.50" stroke="#707070" stroke-width="1.2"/>
<text x="316.6" y="413.4" font-family='"Liberation Sans", Arial, Helvetica, sans-serif' font-size="7" fill="#333" text-anchor="middle">60</text>
<line x1="345.23" y1="403.60" x2="345.23" y2="402.20" stroke="#707070" stroke-width="1.2"/>
<line x1="345.23" y1="314.10" x2="345.23" y2="315.50" stroke="#707070" stroke-width="1.2"/>
<text x="345.2" y="413.4" font-family='"Liberation Sans", Arial, Helvetica, sans-serif' font-size="7" fill="#333" text-anchor="middle">80</text>
<line x1="373.90" y1="403.60" x2="373.90" y2="402.20" stroke="#707070" stroke-width="1.2"/>
<line x1="373.90" y1="314.10" x2="373.90" y2="315.50" stroke="#707070" stroke-width="1.2"/>
<text x="373.9" y="413.4" font-family='"Liberation Sans", Arial, Helvetica, sans-serif' font-size="7" fill="#333" text-anchor="middle">100</text>
<polyline points="232.3,357.2 233.5,352.3 235.1,346.6 237.2,340.8 238.4,322.8 239.2,314.6 240.5,319.5 241.6,337.5 242.5,352.3 243.8,348.2 245.4,352.3 246.5,362.1 247.7,365.4 249.0,357.2 250.3,367.0 252.0,376.0 253.1,379.3 254.2,370.3 255.5,362.9 256.4,374.4 257.7,346.6 259.2,357.2 260.5,362.1 261.8,371.9 263.4,343.3 264.6,362.9 265.4,374.4 267.0,371.9 268.3,368.6 269.5,373.6 271.1,371.9 272.7,363.7 274.6,362.1 275.9,369.5 277.6,360.5 279.2,362.1 280.9,356.4 282.5,347.4 283.6,337.5 284.8,358.8 286.1,346.6 287.7,349.0 289.0,365.4 290.2,369.5 291.3,352.3 292.6,334.3 294.3,336.7 295.9,353.1 297.2,339.2 298.4,350.6 299.5,360.5 301.2,358.8 302.8,367.0 304.4,365.4 306.6,371.1 308.2,361.3 310.3,360.5 312.3,365.4 314.2,361.3 316.3,361.3 317.9,356.4 319.6,353.9 321.2,352.0 322.9,360.5 324.5,358.8 326.1,353.1 327.8,362.1 329.4,353.9 331.0,355.6 332.7,352.3 334.3,358.8 335.5,367.0 336.8,365.4 338.2,376.8 339.9,368.6 341.2,362.1 342.5,369.5 344.1,359.6 345.8,362.1 347.4,364.6 348.6,353.9 349.4,335.1 350.7,345.7 351.8,351.5 353.5,354.7 355.1,344.9 356.2,343.3 357.3,362.1 358.5,375.2 360.1,378.5 361.7,372.7 363.9,368.6 365.5,360.5 366.6,349.8 367.5,368.6 368.3,385.0 369.4,367.0 371.1,367.8 372.7,344.1 374.0,345.7 375.6,355.6 377.0,355.6 378.1,341.6 379.2,349.8 380.2,361.3 381.4,332.6 382.5,343.3 383.5,352.3 385.1,344.1 386.8,352.3 387.9,380.1 389.1,353.9 390.0,323.6 391.2,342.5 392.3,367.0 393.6,386.6 394.5,399.7 395.3,381.7 396.4,350.0" fill="none" stroke="#111" stroke-width="1.65" stroke-linejoin="round"/>
<polyline points="232.3,357.2 233.5,352.3 235.1,346.6 237.2,340.8 238.4,322.8 239.2,314.6 240.5,319.5 241.6,337.5 242.5,352.3 243.8,348.2 245.4,352.3 246.5,362.1 247.7,365.4 249.0,357.2 250.3,367.0 252.0,376.0 253.1,379.3 254.2,370.3 255.5,362.9 256.4,374.4 257.7,346.6 259.2,357.2 260.5,362.1 261.8,371.9 263.4,343.3 264.6,362.9 265.4,374.4 267.0,371.9 268.3,368.6 269.5,373.6 271.1,371.9 272.7,363.7 274.6,362.1 275.9,369.5 277.6,360.5 279.2,362.1 280.9,356.4 282.5,347.4 283.6,337.5 284.8,358.8 286.1,346.6 287.7,349.0 289.0,365.4 290.2,369.5 291.3,352.3 292.6,334.3 294.3,336.7 295.9,353.1 297.2,339.2 298.4,350.6 299.5,360.5 301.2,358.8 302.8,367.0 304.4,365.4 306.6,371.1 308.2,361.3 310.3,360.5 312.3,365.4 314.2,361.3 316.3,361.3 317.9,356.4 319.6,353.9 321.2,352.0 322.9,360.5 324.5,358.8 326.1,353.1 327.8,362.1 329.4,353.9 331.0,355.6 332.7,352.3 334.3,358.8 335.5,367.0 336.8,365.4 338.2,376.8 339.9,368.6 341.2,362.1 342.5,369.5 344.1,359.6 345.8,362.1 347.4,364.6 348.6,353.9 349.4,335.1 350.7,345.7 351.8,351.5 353.5,354.7 355.1,344.9 356.2,343.3 357.3,362.1 358.5,375.2 360.1,378.5 361.7,372.7 363.9,368.6 365.5,360.5 366.6,349.8 367.5,368.6 368.3,385.0 369.4,367.0 371.1,367.8 372.7,344.1 374.0,345.7 375.6,355.6 377.0,355.6 378.1,341.6 379.2,349.8 380.2,361.3 381.4,332.6 382.5,343.3 383.5,352.3 385.1,344.1 386.8,352.3 387.9,380.1 389.1,353.9 390.0,323.6 391.2,342.5 392.3,367.0 393.6,386.6 394.5,399.7 395.3,381.7 396.4,350.0" fill="none" stroke="#ff1a1a" stroke-width="1.65" stroke-dasharray="4.3 3.4" stroke-linejoin="round"/>
<text x="97.3" y="434.3" font-family='"Liberation Sans", Arial, Helvetica, sans-serif' font-weight="bold" font-size="10" fill="#000" stroke="#000" stroke-width="0.2" text-anchor="middle">Non-Military Spending</text>
<rect x="14.90" y="438.90" width="164.00" height="88.40" fill="none" stroke="#a0a0a0" stroke-width="1.6"/>
<line x1="14.60" y1="438.90" x2="16.00" y2="438.90" stroke="#707070" stroke-width="1.2"/>
<line x1="179.20" y1="438.90" x2="177.80" y2="438.90" stroke="#707070" stroke-width="1.2"/>
<text x="12.1" y="441.4" font-family='"Liberation Sans", Arial, Helvetica, sans-serif' font-size="7" fill="#333" text-anchor="end">2</text>
<line x1="14.60" y1="461.00" x2="16.00" y2="461.00" stroke="#707070" stroke-width="1.2"/>
<line x1="179.20" y1="461.00" x2="177.80" y2="461.00" stroke="#707070" stroke-width="1.2"/>
<text x="12.1" y="463.5" font-family='"Liberation Sans", Arial, Helvetica, sans-serif' font-size="7" fill="#333" text-anchor="end">1</text>
<line x1="14.60" y1="483.10" x2="16.00" y2="483.10" stroke="#707070" stroke-width="1.2"/>
<line x1="179.20" y1="483.10" x2="177.80" y2="483.10" stroke="#707070" stroke-width="1.2"/>
<text x="12.1" y="485.6" font-family='"Liberation Sans", Arial, Helvetica, sans-serif' font-size="7" fill="#333" text-anchor="end">0</text>
<line x1="14.60" y1="505.20" x2="16.00" y2="505.20" stroke="#707070" stroke-width="1.2"/>
<line x1="179.20" y1="505.20" x2="177.80" y2="505.20" stroke="#707070" stroke-width="1.2"/>
<text x="12.1" y="507.7" font-family='"Liberation Sans", Arial, Helvetica, sans-serif' font-size="7" fill="#333" text-anchor="end">-1</text>
<line x1="14.60" y1="527.30" x2="16.00" y2="527.30" stroke="#707070" stroke-width="1.2"/>
<line x1="179.20" y1="527.30" x2="177.80" y2="527.30" stroke="#707070" stroke-width="1.2"/>
<text x="12.1" y="529.8" font-family='"Liberation Sans", Arial, Helvetica, sans-serif' font-size="7" fill="#333" text-anchor="end">-2</text>
<line x1="42.07" y1="527.60" x2="42.07" y2="526.20" stroke="#707070" stroke-width="1.2"/>
<line x1="42.07" y1="438.60" x2="42.07" y2="440.00" stroke="#707070" stroke-width="1.2"/>
<text x="42.1" y="537.4" font-family='"Liberation Sans", Arial, Helvetica, sans-serif' font-size="7" fill="#333" text-anchor="middle">20</text>
<line x1="70.66" y1="527.60" x2="70.66" y2="526.20" stroke="#707070" stroke-width="1.2"/>
<line x1="70.66" y1="438.60" x2="70.66" y2="440.00" stroke="#707070" stroke-width="1.2"/>
<text x="70.7" y="537.4" font-family='"Liberation Sans", Arial, Helvetica, sans-serif' font-size="7" fill="#333" text-anchor="middle">40</text>
<line x1="99.26" y1="527.60" x2="99.26" y2="526.20" stroke="#707070" stroke-width="1.2"/>
<line x1="99.26" y1="438.60" x2="99.26" y2="440.00" stroke="#707070" stroke-width="1.2"/>
<text x="99.3" y="537.4" font-family='"Liberation Sans", Arial, Helvetica, sans-serif' font-size="7" fill="#333" text-anchor="middle">60</text>
<line x1="127.86" y1="527.60" x2="127.86" y2="526.20" stroke="#707070" stroke-width="1.2"/>
<line x1="127.86" y1="438.60" x2="127.86" y2="440.00" stroke="#707070" stroke-width="1.2"/>
<text x="127.9" y="537.4" font-family='"Liberation Sans", Arial, Helvetica, sans-serif' font-size="7" fill="#333" text-anchor="middle">80</text>
<line x1="156.45" y1="527.60" x2="156.45" y2="526.20" stroke="#707070" stroke-width="1.2"/>
<line x1="156.45" y1="438.60" x2="156.45" y2="440.00" stroke="#707070" stroke-width="1.2"/>
<text x="156.5" y="537.4" font-family='"Liberation Sans", Arial, Helvetica, sans-serif' font-size="7" fill="#333" text-anchor="middle">100</text>
<polyline points="14.7,468.4 15.7,463.5 17.0,457.7 18.5,456.0 19.5,462.6 20.6,476.7 21.4,483.3 22.6,476.7 23.6,484.1 24.8,486.6 25.9,493.2 27.2,493.2 28.9,500.7 30.5,506.5 31.9,506.8 33.5,499.9 35.2,496.6 36.3,498.2 37.2,485.0 38.0,498.2 38.8,518.1 39.6,525.5 40.8,511.4 42.1,499.9 43.8,494.9 45.8,489.9 47.1,481.7 48.7,470.9 50.1,471.7 51.7,463.5 53.7,455.2 55.0,454.4 56.7,460.2 58.5,475.0 59.6,486.6 60.6,493.2 61.8,485.0 62.9,491.6 64.3,494.1 65.9,498.2 67.6,489.1 69.2,487.5 70.9,484.1 72.5,481.7 73.9,473.4 75.0,466.8 76.7,470.9 78.3,472.6 80.0,476.7 81.6,478.4 83.3,479.2 84.9,475.0 86.1,466.8 87.4,473.4 89.1,478.4 90.7,481.7 92.4,484.1 94.0,485.0 95.7,486.6 97.4,489.6 99.7,485.8 101.3,482.5 103.3,481.7 104.9,484.1 106.6,489.9 107.9,497.4 109.2,499.9 110.4,494.1 112.1,492.4 113.7,486.6 115.0,483.0 116.2,485.8 117.5,491.6 119.2,497.4 120.3,493.2 122.0,486.6 123.6,485.8 125.0,480.5 126.4,481.4 128.2,483.2 130.5,479.1 132.3,480.9 134.1,485.5 135.9,491.8 137.3,488.2 138.5,476.4 139.1,471.8 140.0,478.2 140.6,481.8 141.4,476.4 142.3,468.2 143.2,463.6 144.5,462.3 145.9,462.3 147.3,464.1 148.6,467.3 149.7,471.8 150.6,476.4 151.5,474.1 152.5,477.3 153.6,481.4 155.0,481.8 157.0,485.8 158.7,489.1 160.3,493.2 162.0,494.9 163.6,491.6 165.3,487.5 166.9,485.8 168.6,486.6 170.3,489.9 171.9,486.6 174.1,485.0 176.0,483.3 177.7,481.7 178.8,479.2" fill="none" stroke="#111" stroke-width="1.65" stroke-linejoin="round"/>
<polyline points="14.7,468.4 15.7,463.5 17.0,457.7 18.5,456.0 19.5,462.6 20.6,476.7 21.4,483.3 22.6,476.7 23.6,484.1 24.8,486.6 25.9,493.2 27.2,493.2 28.9,500.7 30.5,506.5 31.9,506.8 33.5,499.9 35.2,496.6 36.3,498.2 37.2,485.0 38.0,498.2 38.8,518.1 39.6,525.5 40.8,511.4 42.1,499.9 43.8,494.9 45.8,489.9 47.1,481.7 48.7,470.9 50.1,471.7 51.7,463.5 53.7,455.2 55.0,454.4 56.7,460.2 58.5,475.0 59.6,486.6 60.6,493.2 61.8,485.0 62.9,491.6 64.3,494.1 65.9,498.2 67.6,489.1 69.2,487.5 70.9,484.1 72.5,481.7 73.9,473.4 75.0,466.8 76.7,470.9 78.3,472.6 80.0,476.7 81.6,478.4 83.3,479.2 84.9,475.0 86.1,466.8 87.4,473.4 89.1,478.4 90.7,481.7 92.4,484.1 94.0,485.0 95.7,486.6 97.4,489.6 99.7,485.8 101.3,482.5 103.3,481.7 104.9,484.1 106.6,489.9 107.9,497.4 109.2,499.9 110.4,494.1 112.1,492.4 113.7,486.6 115.0,483.0 116.2,485.8 117.5,491.6 119.2,497.4 120.3,493.2 122.0,486.6 123.6,485.8 125.0,480.5 126.4,481.4 128.2,483.2 130.5,479.1 132.3,480.9 134.1,485.5 135.9,491.8 137.3,488.2 138.5,476.4 139.1,471.8 140.0,478.2 140.6,481.8 141.4,476.4 142.3,468.2 143.2,463.6 144.5,462.3 145.9,462.3 147.3,464.1 148.6,467.3 149.7,471.8 150.6,476.4 151.5,474.1 152.5,477.3 153.6,481.4 155.0,481.8 157.0,485.8 158.7,489.1 160.3,493.2 162.0,494.9 163.6,491.6 165.3,487.5 166.9,485.8 168.6,486.6 170.3,489.9 171.9,486.6 174.1,485.0 176.0,483.3 177.7,481.7 178.8,479.2" fill="none" stroke="#ff1a1a" stroke-width="1.65" stroke-dasharray="4.3 3.4" stroke-linejoin="round"/>
<text x="314.6" y="434.4" font-family='"Liberation Sans", Arial, Helvetica, sans-serif' font-weight="bold" font-size="10" fill="#000" stroke="#000" stroke-width="0.2" text-anchor="middle">Military Spending</text>
<rect x="232.00" y="439.00" width="164.40" height="88.30" fill="none" stroke="#a0a0a0" stroke-width="1.6"/>
<line x1="231.70" y1="439.00" x2="233.10" y2="439.00" stroke="#707070" stroke-width="1.2"/>
<line x1="396.70" y1="439.00" x2="395.30" y2="439.00" stroke="#707070" stroke-width="1.2"/>
<text x="229.2" y="441.5" font-family='"Liberation Sans", Arial, Helvetica, sans-serif' font-size="7" fill="#333" text-anchor="end">4</text>
<line x1="231.70" y1="461.07" x2="233.10" y2="461.07" stroke="#707070" stroke-width="1.2"/>
<line x1="396.70" y1="461.07" x2="395.30" y2="461.07" stroke="#707070" stroke-width="1.2"/>
<text x="229.2" y="463.6" font-family='"Liberation Sans", Arial, Helvetica, sans-serif' font-size="7" fill="#333" text-anchor="end">2</text>
<line x1="231.70" y1="483.15" x2="233.10" y2="483.15" stroke="#707070" stroke-width="1.2"/>
<line x1="396.70" y1="483.15" x2="395.30" y2="483.15" stroke="#707070" stroke-width="1.2"/>
<text x="229.2" y="485.6" font-family='"Liberation Sans", Arial, Helvetica, sans-serif' font-size="7" fill="#333" text-anchor="end">0</text>
<line x1="231.70" y1="505.22" x2="233.10" y2="505.22" stroke="#707070" stroke-width="1.2"/>
<line x1="396.70" y1="505.22" x2="395.30" y2="505.22" stroke="#707070" stroke-width="1.2"/>
<text x="229.2" y="507.7" font-family='"Liberation Sans", Arial, Helvetica, sans-serif' font-size="7" fill="#333" text-anchor="end">-2</text>
<line x1="231.70" y1="527.30" x2="233.10" y2="527.30" stroke="#707070" stroke-width="1.2"/>
<line x1="396.70" y1="527.30" x2="395.30" y2="527.30" stroke="#707070" stroke-width="1.2"/>
<text x="229.2" y="529.8" font-family='"Liberation Sans", Arial, Helvetica, sans-serif' font-size="7" fill="#333" text-anchor="end">-4</text>
<line x1="259.23" y1="527.60" x2="259.23" y2="526.20" stroke="#707070" stroke-width="1.2"/>
<line x1="259.23" y1="438.70" x2="259.23" y2="440.10" stroke="#707070" stroke-width="1.2"/>
<text x="259.2" y="537.4" font-family='"Liberation Sans", Arial, Helvetica, sans-serif' font-size="7" fill="#333" text-anchor="middle">20</text>
<line x1="287.90" y1="527.60" x2="287.90" y2="526.20" stroke="#707070" stroke-width="1.2"/>
<line x1="287.90" y1="438.70" x2="287.90" y2="440.10" stroke="#707070" stroke-width="1.2"/>
<text x="287.9" y="537.4" font-family='"Liberation Sans", Arial, Helvetica, sans-serif' font-size="7" fill="#333" text-anchor="middle">40</text>
<line x1="316.56" y1="527.60" x2="316.56" y2="526.20" stroke="#707070" stroke-width="1.2"/>
<line x1="316.56" y1="438.70" x2="316.56" y2="440.10" stroke="#707070" stroke-width="1.2"/>
<text x="316.6" y="537.4" font-family='"Liberation Sans", Arial, Helvetica, sans-serif' font-size="7" fill="#333" text-anchor="middle">60</text>
<line x1="345.23" y1="527.60" x2="345.23" y2="526.20" stroke="#707070" stroke-width="1.2"/>
<line x1="345.23" y1="438.70" x2="345.23" y2="440.10" stroke="#707070" stroke-width="1.2"/>
<text x="345.2" y="537.4" font-family='"Liberation Sans", Arial, Helvetica, sans-serif' font-size="7" fill="#333" text-anchor="middle">80</text>
<line x1="373.90" y1="527.60" x2="373.90" y2="526.20" stroke="#707070" stroke-width="1.2"/>
<line x1="373.90" y1="438.70" x2="373.90" y2="440.10" stroke="#707070" stroke-width="1.2"/>
<text x="373.9" y="537.4" font-family='"Liberation Sans", Arial, Helvetica, sans-serif' font-size="7" fill="#333" text-anchor="middle">100</text>
<polyline points="232.3,500.7 233.5,498.2 234.6,494.1 236.0,497.4 237.3,501.5 238.9,502.3 240.6,496.6 241.8,491.6 243.4,493.2 245.1,492.4 246.7,491.6 247.9,486.6 249.2,484.1 250.5,479.2 251.7,481.7 253.0,479.2 254.2,481.7 255.8,477.5 257.1,480.8 258.3,484.1 259.5,486.6 260.4,491.6 261.6,480.8 262.8,479.2 264.1,478.4 264.9,470.1 266.1,461.0 267.4,464.3 269.0,471.7 270.4,460.2 271.5,446.1 272.7,452.7 274.0,462.6 275.5,455.2 277.1,449.4 278.8,450.2 280.4,456.9 282.1,464.3 283.4,470.1 284.6,461.8 285.9,476.7 287.6,464.3 289.2,462.6 290.9,464.3 292.5,463.5 293.7,466.0 294.8,470.1 296.2,461.8 297.5,455.2 298.8,453.5 300.0,458.5 301.1,468.4 302.4,478.4 303.6,481.7 304.8,478.4 306.1,470.9 307.4,469.3 308.6,478.4 309.7,485.0 311.0,487.5 312.4,489.1 313.5,485.0 314.7,494.1 315.7,502.3 316.3,494.1 317.5,480.0 318.6,493.2 320.0,498.2 321.6,494.1 323.3,496.6 324.9,506.5 326.6,494.9 327.9,486.6 329.1,489.9 330.2,494.9 331.5,502.3 332.4,507.3 333.5,494.9 334.9,497.4 336.2,493.2 337.3,503.2 338.2,519.7 339.5,508.1 340.8,496.6 342.3,499.0 343.9,503.2 345.1,507.3 346.4,495.7 347.8,485.8 348.9,496.6 350.1,514.7 351.1,497.4 352.2,506.5 353.9,510.6 355.5,505.7 357.7,501.5 359.3,499.0 361.0,492.4 362.6,485.8 364.3,480.8 365.6,476.7 366.8,483.3 367.6,466.0 368.4,450.2 369.6,459.3 370.9,456.0 372.2,453.5 373.4,454.4 374.5,450.2 375.5,447.8 376.7,453.5 377.8,464.3 379.2,465.1 380.5,464.3 381.1,459.3 382.1,470.1 383.3,480.8 384.5,475.9 385.8,479.2 387.1,484.1 388.3,481.7 389.9,494.1 391.6,488.3 392.7,485.0 394.0,486.6 395.4,484.1 396.4,481.7" transform="translate(0.45,-0.45)" fill="none" stroke="#111" stroke-width="1.8" stroke-linejoin="round"/>
<polyline points="232.3,500.7 233.5,498.2 234.6,494.1 236.0,497.4 237.3,501.5 238.9,502.3 240.6,496.6 241.8,491.6 243.4,493.2 245.1,492.4 246.7,491.6 247.9,486.6 249.2,484.1 250.5,479.2 251.7,481.7 253.0,479.2 254.2,481.7 255.8,477.5 257.1,480.8 258.3,484.1 259.5,486.6 260.4,491.6 261.6,480.8 262.8,479.2 264.1,478.4 264.9,470.1 266.1,461.0 267.4,464.3 269.0,471.7 270.4,460.2 271.5,446.1 272.7,452.7 274.0,462.6 275.5,455.2 277.1,449.4 278.8,450.2 280.4,456.9 282.1,464.3 283.4,470.1 284.6,461.8 285.9,476.7 287.6,464.3 289.2,462.6 290.9,464.3 292.5,463.5 293.7,466.0 294.8,470.1 296.2,461.8 297.5,455.2 298.8,453.5 300.0,458.5 301.1,468.4 302.4,478.4 303.6,481.7 304.8,478.4 306.1,470.9 307.4,469.3 308.6,478.4 309.7,485.0 311.0,487.5 312.4,489.1 313.5,485.0 314.7,494.1 315.7,502.3 316.3,494.1 317.5,480.0 318.6,493.2 320.0,498.2 321.6,494.1 323.3,496.6 324.9,506.5 326.6,494.9 327.9,486.6 329.1,489.9 330.2,494.9 331.5,502.3 332.4,507.3 333.5,494.9 334.9,497.4 336.2,493.2 337.3,503.2 338.2,519.7 339.5,508.1 340.8,496.6 342.3,499.0 343.9,503.2 345.1,507.3 346.4,495.7 347.8,485.8 348.9,496.6 350.1,514.7 351.1,497.4 352.2,506.5 353.9,510.6 355.5,505.7 357.7,501.5 359.3,499.0 361.0,492.4 362.6,485.8 364.3,480.8 365.6,476.7 366.8,483.3 367.6,466.0 368.4,450.2 369.6,459.3 370.9,456.0 372.2,453.5 373.4,454.4 374.5,450.2 375.5,447.8 376.7,453.5 377.8,464.3 379.2,465.1 380.5,464.3 381.1,459.3 382.1,470.1 383.3,480.8 384.5,475.9 385.8,479.2 387.1,484.1 388.3,481.7 389.9,494.1 391.6,488.3 392.7,485.0 394.0,486.6 395.4,484.1 396.4,481.7" transform="translate(-0.25,0.3)" fill="none" stroke="#ff1a1a" stroke-width="1.45" stroke-dasharray="9 1.5" stroke-linejoin="round"/>
</svg></body></html>
